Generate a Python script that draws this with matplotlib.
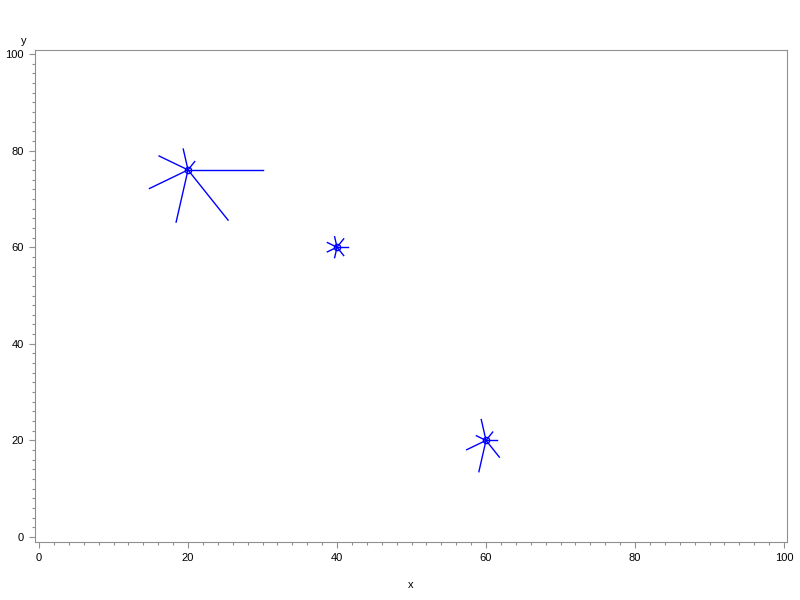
import numpy as np
import matplotlib
matplotlib.use('Agg')
import matplotlib.pyplot as plt
from matplotlib import transforms
from matplotlib.ticker import MultipleLocator

# star centres
x = [20, 40, 60]
y = [76, 60, 20]
# ray values, ray k drawn at angle k*360/7 (k=0 points right)
rays = [
    [7, 1, 2, 3, 4, 5, 6],
    [1, 1, 1, 1, 1, 1, 1],
    [1, 1, 2, 1, 2, 3, 2],
]
xticks = [0, 20, 40, 60, 80, 100]
yticks = [0, 20, 40, 60, 80, 100]

plt.rcParams['font.family'] = ['Liberation Sans', 'DejaVu Sans']
fig = plt.figure(figsize=(8, 6), dpi=100)
ax = fig.add_axes([0.04375, 0.09667, 0.94, 0.82])
ax.set_xlim(-0.54, 100.4)
ax.set_ylim(-1.03, 100.83)

unit = 10.7 / 100  # inches per ray unit
angles = np.arange(7) * 2 * np.pi / 7
for cx, cy, vals in zip(x, y, rays):
    tr = fig.dpi_scale_trans + transforms.ScaledTranslation(cx, cy, ax.transData)
    for a, v in zip(angles, vals):
        ax.plot([0, v * unit * np.cos(a)], [0, v * unit * np.sin(a)],
                color='#0000ff', lw=1.0, transform=tr, clip_on=False)
    ax.plot(cx, cy, marker='o', ms=4.5, mfc='none', mec='#0000ff', mew=1.0)

for s in ax.spines.values():
    s.set_color('#909090')
    s.set_linewidth(0.8)
ax.set_xticks(xticks)
ax.set_yticks(yticks)
ax.xaxis.set_minor_locator(MultipleLocator(2))
ax.yaxis.set_minor_locator(MultipleLocator(2))
ax.tick_params(which='major', length=4, width=0.8, color='#909090', labelsize=8, pad=4)
ax.tick_params(which='minor', length=2.5, width=0.8, color='#909090')

fig.text(24 / 800, 1 - 41 / 600, 'y', fontsize=8, ha='center', va='center')
fig.text(411 / 800, 1 - 585 / 600, 'x', fontsize=8, ha='center', va='center')

fig.savefig('out.png')
